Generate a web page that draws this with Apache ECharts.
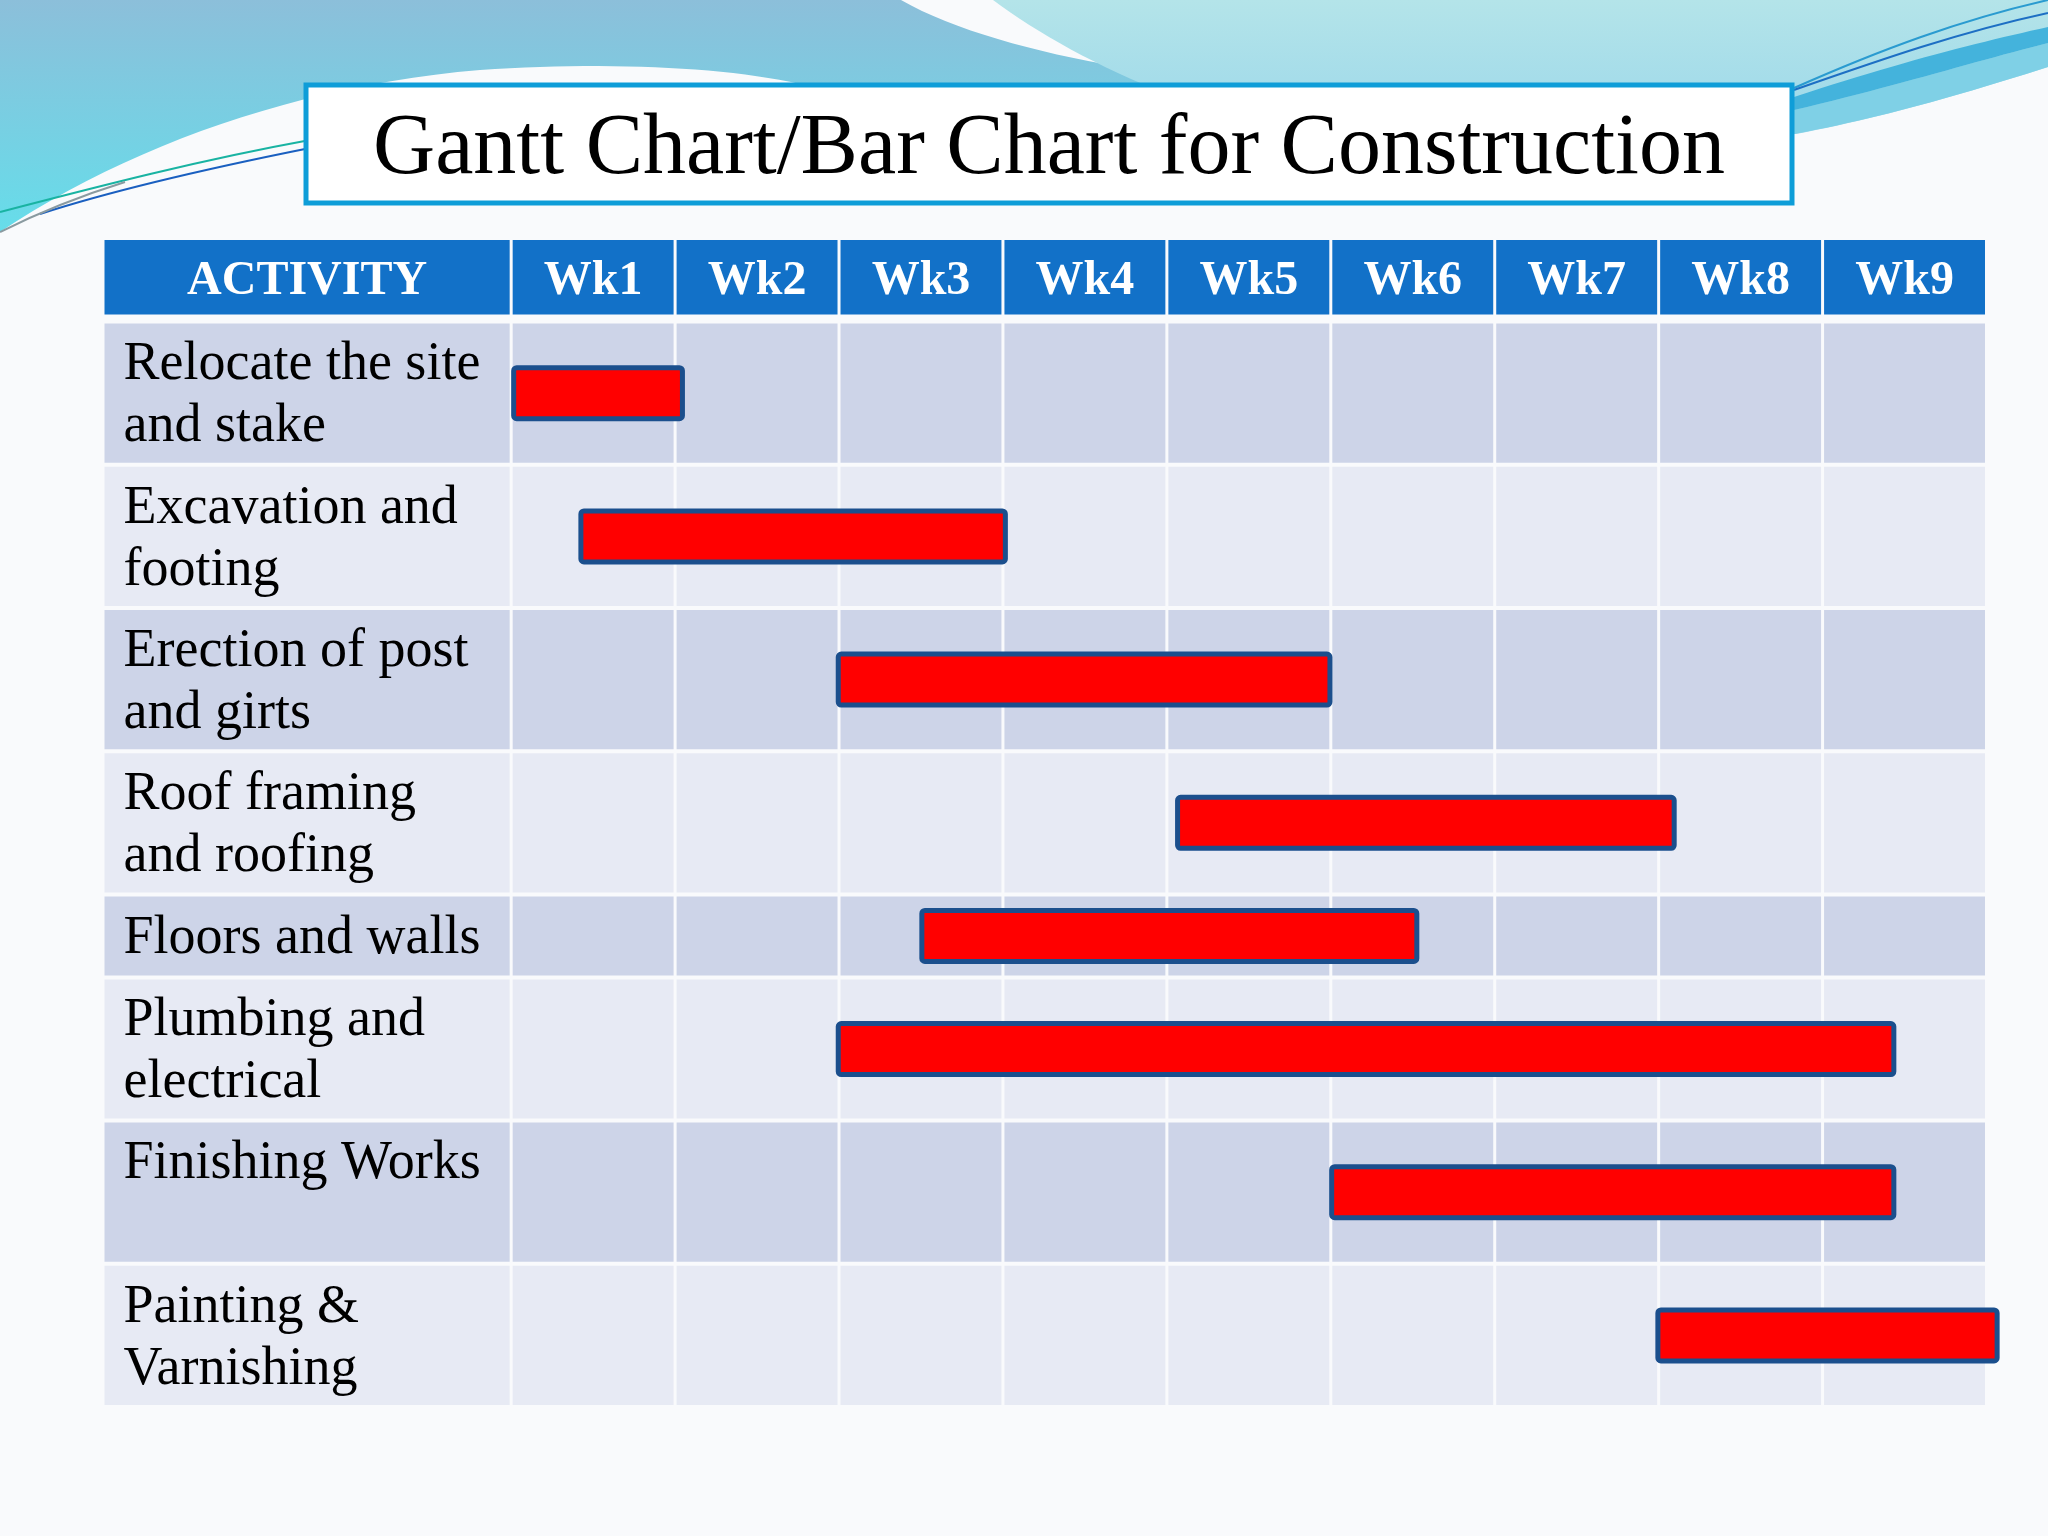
<!DOCTYPE html>
<html>
<head>
<meta charset="utf-8" />
<title>Gantt Chart/Bar Chart for Construction</title>
<script src="https://cdn.jsdelivr.net/npm/echarts@6/dist/echarts.min.js"></script>
<style>
  html, body { margin: 0; padding: 0; background: #f9fafc; }
  #chart { width: 2048px; height: 1536px; }
</style>
</head>
<body>
<div id="chart"></div>
<script>
// chart data
const weeks = ["Wk1", "Wk2", "Wk3", "Wk4", "Wk5", "Wk6", "Wk7", "Wk8", "Wk9"];
const activities = [
  "Relocate the site\nand stake",
  "Excavation and\nfooting",
  "Erection of post\nand girts",
  "Roof framing\nand roofing",
  "Floors and walls",
  "Plumbing and\nelectrical",
  "Finishing Works\n",
  "Painting &\nVarnishing",
];
// week where each bar starts / ends (0 = start of Wk1)
const startWeek = [0, 0.41, 1.98, 4.05, 2.49, 1.98, 4.99, 6.98];
const endWeek = [1.06, 3.03, 5.01, 7.11, 5.54, 8.45, 8.45, 9.08];

// table layout, in axis units
const ACT_SPAN = 2.49; // activity column width (weeks)
const HEAD_SPAN = 0.57; // header height (rows)
const ROW_SPAN = [1, 1, 1, 1, 0.58, 1, 1, 1];
const rowTop = [];
let acc = 0;
ROW_SPAN.forEach((s) => {
  rowTop.push(acc);
  acc += s;
});
const TOTAL = acc;

const ROW_COLORS = ["#CDD4E8", "#E7EAF4"];
const FONT = '"Liberation Serif", "DejaVu Serif", serif';

function vGradient(c0, c1) {
  return {
    type: "linear",
    x: 0,
    y: 0,
    x2: 0,
    y2: 1,
    colorStops: [
      { offset: 0, color: c0 },
      { offset: 1, color: c1 },
    ],
  };
}

// sample a cubic curve into polygon points (slide decoration only)
function curve(p0, c1, c2, p1) {
  const pts = [];
  for (let k = 0; k <= 24; k++) {
    const t = k / 24;
    const u = 1 - t;
    pts.push([
      u * u * u * p0[0] + 3 * u * u * t * c1[0] + 3 * u * t * t * c2[0] + t * t * t * p1[0],
      u * u * u * p0[1] + 3 * u * u * t * c1[1] + 3 * u * t * t * c2[1] + t * t * t * p1[1],
    ]);
  }
  return pts;
}

function line(p0, c1, c2, p1, color) {
  return {
    type: "bezierCurve",
    z: 0,
    shape: { x1: p0[0], y1: p0[1], cpx1: c1[0], cpy1: c1[1], cpx2: c2[0], cpy2: c2[1], x2: p1[0], y2: p1[1] },
    style: { fill: null, stroke: color, lineWidth: 2 },
  };
}

function cellRect(api, x0, x1, y0, y1, bottomGap) {
  const p0 = api.coord([x0, y0]);
  const p1 = api.coord([x1, y1]);
  return {
    x: p0[0] + 1.5,
    y: p0[1] + 2,
    width: p1[0] - p0[0] - 3,
    height: p1[1] - p0[1] - 2 - bottomGap,
  };
}

const headerCells = ["ACTIVITY"].concat(weeks);

const leftWave = [[0, 0]]
  .concat(curve([901, 0], [980, 45], [1120, 72], [1254, 84]))
  .concat([[800, 84]])
  .concat(curve([800, 84], [720, 66], [600, 62], [480, 70]))
  .concat(curve([480, 70], [300, 85], [130, 145], [0, 232]));
const rightWave = [[2048, 0], [2048, 67]]
  .concat(curve([2048, 67], [1960, 95], [1880, 118], [1796, 134]))
  .concat(curve([1290, 134], [1160, 100], [1060, 50], [993, 0]));
const swooshLight = curve([1794, 110], [1900, 85], [1980, 60], [2048, 43]).concat(
  curve([2048, 67], [1960, 95], [1880, 118], [1794, 134])
);
const swooshBand = curve([1794, 97], [1900, 62], [1980, 42], [2048, 27]).concat(
  curve([2048, 43], [1980, 60], [1900, 85], [1794, 110])
);

const chartDom = echarts.init(document.getElementById("chart"));
let option = {
  animation: false,
  backgroundColor: "#F9FAFC",
  grid: {
    left: 103,
    right: 61.5,
    top: 240,
    bottom: 129,
  },
  xAxis: {
    type: "value",
    min: -ACT_SPAN,
    max: weeks.length,
    show: false,
  },
  yAxis: {
    type: "value",
    inverse: true,
    min: -HEAD_SPAN,
    max: TOTAL,
    show: false,
  },
  graphic: [
    // slide decoration
    { type: "polygon", z: 0, shape: { points: leftWave }, style: { fill: vGradient("#8CBFDA", "#66DDEA") } },
    { type: "polygon", z: 0, shape: { points: rightWave }, style: { fill: vGradient("#B4E4E9", "#9CD8EA") } },
    { type: "polygon", z: 0, shape: { points: swooshLight }, style: { fill: "#7FD0E6" } },
    { type: "polygon", z: 0, shape: { points: swooshBand }, style: { fill: "#44B3DC" } },
    line([1794, 88], [1880, 50], [1960, 20], [2048, 0], "#2A9BD0"),
    line([1794, 90], [1880, 60], [1960, 32], [2048, 13], "#1D6FC4"),
    line([0, 212], [100, 186], [200, 160], [310, 140], "#19B3A2"),
    line([40, 214], [120, 188], [220, 166], [310, 148], "#1A5FC0"),
    line([0, 232], [40, 212], [80, 196], [125, 182], "#8A9AA0"),
    // title box
    {
      type: "rect",
      z: 1,
      shape: { x: 306, y: 85, width: 1486, height: 118 },
      style: { fill: "#FFFFFF", stroke: "#0E9DD8", lineWidth: 5 },
    },
    {
      type: "text",
      z: 1,
      x: 1049,
      y: 150,
      style: {
        text: "Gantt Chart/Bar Chart for Construction",
        font: "86px " + FONT,
        fill: "#000000",
        align: "center",
        verticalAlign: "middle",
      },
    },
  ],
  series: [
    {
      // header row
      type: "custom",
      data: headerCells.map((t, i) => (i === 0 ? [-ACT_SPAN, 0] : [i - 1, i])),
      renderItem: function (params, api) {
        const r = cellRect(api, api.value(0), api.value(1), -HEAD_SPAN, 0, 5);
        r.y -= 2;
        return {
          type: "group",
          children: [
            { type: "rect", shape: r, style: { fill: "#1271C8" } },
            {
              type: "text",
              style: {
                text: headerCells[params.dataIndex],
                x: r.x + r.width / 2,
                y: r.y + r.height / 2 + 4,
                align: "center",
                verticalAlign: "middle",
                font: "bold 48px " + FONT,
                fill: "#FFFFFF",
              },
            },
          ],
        };
      },
    },
    {
      // table rows with activity names
      type: "custom",
      data: activities.map((a, i) => [rowTop[i], rowTop[i] + ROW_SPAN[i]]),
      renderItem: function (params, api) {
        const i = params.dataIndex;
        const y0 = api.value(0);
        const y1 = api.value(1);
        const fill = ROW_COLORS[i % 2];
        const act = cellRect(api, -ACT_SPAN, 0, y0, y1, 2);
        const children = [
          { type: "rect", shape: act, style: { fill: fill } },
          {
            type: "text",
            style: {
              text: activities[i],
              x: act.x + 19,
              y: act.y + act.height / 2 + 3,
              align: "left",
              verticalAlign: "middle",
              font: "54px " + FONT,
              lineHeight: 62,
              fill: "#000000",
            },
          },
        ];
        weeks.forEach((w, k) => {
          children.push({
            type: "rect",
            shape: cellRect(api, k, k + 1, y0, y1, 2),
            style: { fill: fill },
          });
        });
        return { type: "group", children: children };
      },
    },
    {
      // gantt bars
      type: "custom",
      data: activities.map((a, i) => [startWeek[i], endWeek[i], rowTop[i] + ROW_SPAN[i] / 2]),
      renderItem: function (params, api) {
        const a = api.coord([api.value(0), api.value(2)]);
        const b = api.coord([api.value(1), api.value(2)]);
        return {
          type: "rect",
          shape: { x: a[0] + 2.5, y: a[1] - 25.5, width: b[0] - a[0] - 5, height: 51, r: 3 },
          style: { fill: "#FF0000", stroke: "#1B4F8D", lineWidth: 5 },
        };
      },
    },
  ],
};
option && chartDom.setOption(option);
</script>
</body>
</html>
